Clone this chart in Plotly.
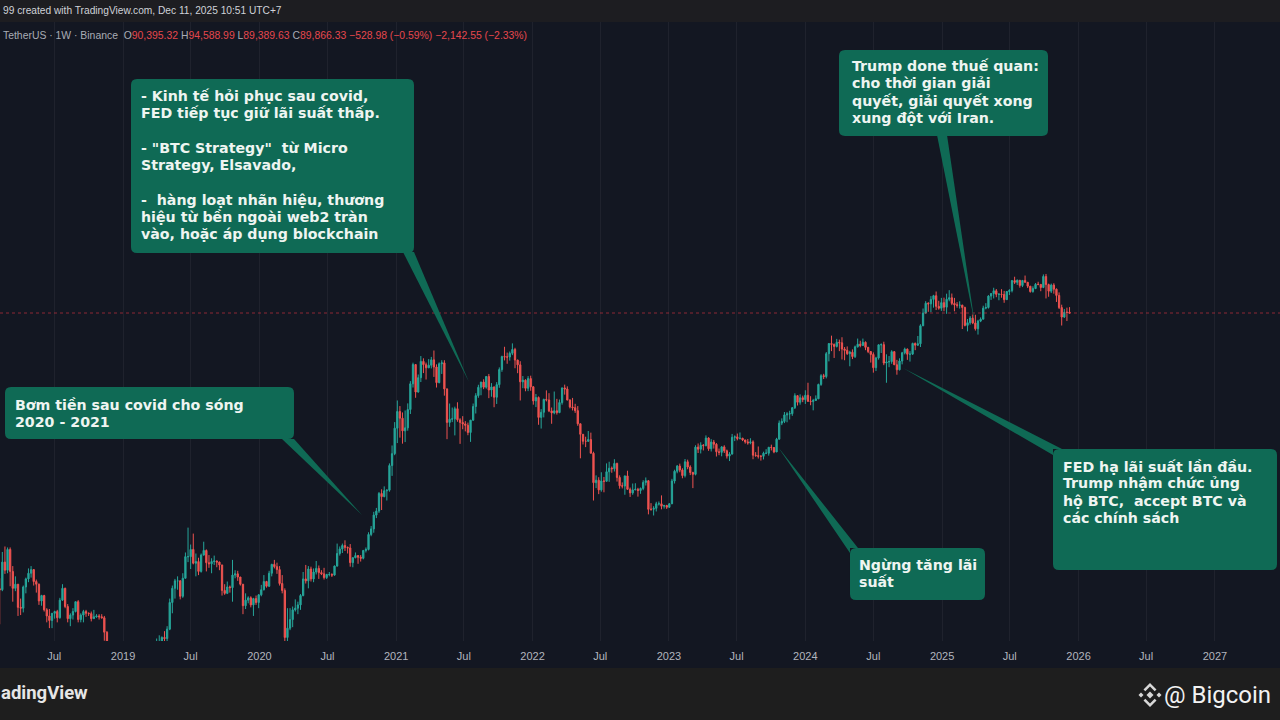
import plotly.graph_objects as go
import pandas as pd

# ---------------- DATA (BTC/USDT weekly candles, values in thousands USD) ----------------
first_week = "2018-02-05"
first_open_k = 8.17

close_2018_k = [8.10, 10.30, 9.60, 11.50, 9.50, 8.20, 8.50, 6.95, 6.90, 8.30, 8.90, 9.35, 9.65,
                8.70, 8.50, 7.35, 7.70, 6.80, 6.45, 6.20, 6.60, 6.70, 6.35, 7.40, 8.20, 7.00,
                6.30, 6.50, 6.70, 7.30, 6.25, 6.50, 6.70, 6.60, 6.58, 6.30, 6.40, 6.45, 6.40,
                6.35, 5.60, 4.00, 4.10, 3.55, 3.25, 3.95, 3.85, 4.05]
high_2018_k = [8.95, 11.25, 11.80, 11.70, 11.70, 9.95, 9.10, 8.50, 7.50, 8.40, 9.00, 9.75, 9.95,
               9.70, 8.85, 8.55, 7.75, 7.75, 6.90, 6.85, 6.60, 6.75, 6.80, 7.55, 8.50, 8.25,
               7.15, 6.60, 6.90, 7.30, 7.40, 6.60, 6.80, 6.80, 6.65, 6.70, 6.80, 6.55, 6.55,
               6.55, 6.45, 5.65, 4.45, 4.30, 3.65, 4.20, 4.30, 4.10]
low_2018_k = [6.00, 8.00, 9.30, 9.35, 8.35, 7.30, 8.00, 6.45, 6.50, 6.65, 7.85, 8.65, 9.00,
              8.40, 7.90, 7.10, 7.05, 6.70, 6.10, 5.80, 5.80, 6.30, 6.10, 6.30, 7.35, 6.90,
              6.10, 5.90, 6.25, 6.65, 6.10, 6.10, 6.10, 6.40, 6.45, 6.15, 6.30, 6.35, 6.25,
              6.30, 5.20, 3.50, 3.65, 3.30, 3.15, 3.25, 3.55, 3.65]

close_2019_k = [3.60, 3.55, 3.55, 3.45, 3.65, 3.70, 3.80, 3.85, 3.95, 4.00, 4.00, 4.10,
                5.10, 5.10, 5.35, 5.30, 5.75, 7.25, 8.20, 8.75, 8.75, 7.65, 8.95, 10.80, 10.80,
                11.50, 10.20, 10.35, 9.50, 10.95, 11.40, 10.25, 10.15, 10.35,
                10.40, 10.30, 10.05, 8.05, 7.85, 8.30, 8.25, 9.20, 9.30,
                9.05, 8.50, 7.05, 7.40, 7.55, 7.10, 7.50, 7.25, 7.75]
high_2019_k = [4.10, 3.75, 3.65, 3.55, 3.75, 3.72, 4.20, 3.95, 3.95, 4.00, 4.10, 4.15,
               5.30, 5.45, 5.40, 5.65, 5.90, 7.50, 8.40, 8.90, 9.10, 8.80, 9.35, 11.20, 13.90,
               12.00, 13.20, 11.10, 10.70, 11.10, 12.30, 11.50, 10.95, 10.65,
               10.90, 10.45, 10.35, 10.05, 8.50, 8.70, 8.40, 10.50, 9.60,
               9.55, 9.05, 8.50, 7.85, 7.65, 7.65, 7.55, 7.70, 7.80]
low_2019_k = [3.50, 3.50, 3.45, 3.35, 3.35, 3.55, 3.70, 3.70, 3.70, 3.80, 3.90, 3.95,
              4.10, 4.90, 4.95, 5.05, 5.15, 5.70, 6.60, 7.50, 8.10, 7.45, 7.55, 8.95, 10.30,
              9.70, 10.10, 9.10, 9.20, 9.40, 10.90, 9.50, 9.80, 9.35,
              10.05, 9.85, 9.60, 7.70, 7.75, 7.80, 7.90, 7.30, 8.95,
              8.75, 8.40, 6.55, 6.85, 7.20, 6.95, 6.45, 7.10, 6.90]

close_2020_k = [8.10, 8.70, 8.35, 9.35, 10.10, 9.90, 9.65, 8.55, 8.05, 5.35, 5.80, 6.25, 6.80,
                6.90, 7.10, 7.70, 8.90, 8.75, 9.70, 8.90, 9.45, 9.75, 9.40, 9.30, 9.00, 9.25,
                9.25, 9.20, 9.95, 11.10, 11.55, 11.90, 11.70, 11.65, 10.25,
                10.70, 10.90, 10.75, 10.65, 11.40, 11.50, 13.10, 13.75,
                15.50, 16.05, 18.70, 18.20, 19.15, 19.25, 23.85, 26.45, 33.00]
high_2020_k = [8.45, 9.20, 8.75, 9.55, 10.15, 10.50, 10.25, 9.95, 9.20, 8.20, 6.90, 6.90, 7.00,
               7.45, 7.30, 7.80, 9.45, 10.05, 9.95, 9.90, 9.75, 10.40, 10.00, 9.60, 9.80, 9.30,
               9.45, 9.35, 10.00, 12.10, 11.80, 12.10, 12.45, 11.80, 12.05,
               10.75, 11.20, 10.95, 10.95, 11.45, 11.70, 13.35, 14.10,
               15.95, 16.50, 18.95, 19.40, 19.90, 19.40, 24.30, 28.40, 34.80]
low_2020_k = [7.65, 8.05, 8.25, 8.30, 9.10, 9.75, 9.30, 8.40, 7.85, 3.80, 4.45, 5.70, 5.85,
              6.70, 6.55, 6.80, 7.65, 8.55, 8.20, 8.70, 8.65, 9.25, 8.90, 9.20, 8.85, 8.90,
              9.10, 9.05, 9.15, 9.90, 10.90, 11.15, 11.35, 11.10, 9.90,
              9.85, 10.65, 10.15, 10.35, 10.55, 11.20, 11.40, 12.90,
              13.30, 15.10, 15.80, 16.20, 18.10, 17.60, 19.00, 21.80, 26.10]

close_2021_k = [38.15, 36.00, 32.25, 33.10, 38.80, 48.55, 57.40, 45.20,
                51.20, 59.00, 57.35, 55.80, 57.05, 59.80, 56.20, 49.05, 57.80,
                58.25, 46.45, 34.70, 35.70, 35.80, 39.10, 35.50, 34.70, 34.25,
                33.85, 31.80, 35.40, 39.85, 43.80, 47.10, 49.30, 47.15, 51.75,
                46.00, 47.25, 43.20, 48.20, 54.95, 61.50, 61.30, 61.30,
                63.30, 65.45, 59.70, 57.25, 49.40, 50.10, 46.70, 50.80, 47.30]
high_2021_k = [42.00, 40.00, 37.85, 38.50, 40.95, 49.70, 58.35, 57.50,
               52.65, 61.80, 60.60, 58.40, 60.20, 61.35, 64.85, 57.50, 58.50,
               59.60, 59.60, 46.65, 40.90, 39.50, 39.80, 41.35, 36.00, 36.65,
               35.10, 34.65, 35.40, 40.90, 44.75, 48.15, 49.40, 50.50, 51.90,
               52.90, 48.85, 47.45, 49.25, 56.00, 62.00, 67.00, 63.70,
               64.30, 69.00, 66.40, 59.85, 59.10, 51.95, 50.50, 51.90, 52.10]
low_2021_k = [29.00, 30.40, 28.85, 29.25, 32.30, 37.35, 47.00, 43.00,
              44.95, 49.30, 53.30, 50.40, 55.65, 55.50, 51.55, 47.00, 48.75,
              52.90, 43.80, 30.00, 33.40, 34.80, 31.00, 34.90, 28.80, 32.70,
              32.10, 31.05, 29.30, 35.20, 37.50, 43.00, 43.95, 46.35, 46.55,
              42.85, 43.40, 39.60, 40.75, 46.90, 53.90, 59.50, 57.80,
              59.40, 62.30, 55.60, 53.25, 42.00, 46.75, 45.50, 45.55, 45.70]

close_2022_k = [41.85, 43.10, 36.25, 37.90, 42.40, 42.20, 38.35, 37.70, 38.40,
                37.80, 41.25, 46.85, 46.40, 42.15, 39.70, 39.45, 38.45,
                34.30, 31.30, 29.45, 29.45, 29.90, 26.55, 20.55, 21.00, 19.30,
                20.85, 20.80, 22.60, 23.30, 23.20, 24.30, 21.50, 20.00, 19.95,
                21.80, 19.40, 18.80, 19.30, 19.40, 19.20, 19.55, 20.60, 20.90,
                16.30, 16.30, 16.45, 17.10, 17.10, 16.75, 16.85, 16.60]
high_2022_k = [47.55, 44.45, 43.50, 38.95, 42.65, 45.85, 44.75, 39.50, 45.40,
               42.60, 42.35, 47.00, 48.20, 47.50, 42.45, 42.95, 40.80,
               40.00, 34.35, 31.35, 30.65, 32.20, 31.75, 26.90, 21.90, 21.55,
               22.50, 21.60, 24.30, 24.65, 23.65, 25.20, 24.45, 21.90, 20.60,
               21.85, 22.80, 19.70, 20.40, 20.45, 19.65, 19.70, 21.00, 21.50,
               21.00, 17.20, 16.75, 17.40, 17.45, 18.40, 16.95, 16.95]
low_2022_k = [40.50, 39.65, 34.00, 32.90, 36.25, 41.65, 37.95, 34.30, 37.25,
              37.15, 37.60, 40.50, 44.20, 42.10, 39.20, 38.50, 37.70,
              33.70, 25.40, 28.65, 28.00, 29.30, 26.50, 17.60, 19.60, 18.60,
              19.00, 18.90, 20.75, 20.70, 22.40, 22.65, 20.75, 19.50, 19.55,
              18.50, 19.30, 18.15, 18.50, 19.25, 18.20, 18.65, 19.25, 20.05,
              15.60, 16.10, 15.45, 16.00, 16.85, 16.30, 16.40, 16.35]

close_2023_k = [17.10, 20.85, 22.70, 23.75, 22.95, 21.85, 24.65, 23.55, 22.45,
                22.10, 28.00, 27.50, 28.45, 28.35, 30.30, 27.60, 29.25,
                28.70, 26.90, 26.75, 28.05, 27.10, 25.90, 26.35, 30.50, 30.60,
                30.15, 30.25, 29.80, 29.30, 29.05, 29.30, 26.10, 26.00, 25.85,
                25.85, 26.55, 26.55, 27.95, 27.90, 26.85, 30.00, 34.50, 35.00,
                37.05, 37.35, 37.45, 39.45, 43.80, 41.35, 43.00, 42.30]
high_2023_k = [17.20, 21.25, 23.00, 23.95, 24.25, 23.30, 25.25, 25.10, 23.90,
               22.60, 28.45, 28.90, 29.20, 28.75, 31.00, 30.50, 30.00,
               29.80, 29.00, 27.65, 28.25, 28.45, 27.40, 26.80, 31.40, 31.00,
               31.50, 31.80, 30.35, 29.85, 30.05, 30.25, 29.70, 26.80, 28.15,
               26.10, 26.90, 27.50, 28.05, 28.60, 28.00, 30.35, 35.30, 35.95,
               38.00, 37.95, 38.40, 39.65, 44.70, 43.40, 44.30, 43.80]
low_2023_k = [16.50, 17.10, 20.40, 22.30, 22.50, 21.35, 21.50, 23.10, 21.95,
              19.60, 21.90, 26.60, 26.50, 27.20, 28.20, 27.10, 26.95,
              27.65, 25.80, 26.10, 25.85, 26.60, 25.35, 24.80, 26.25, 29.50,
              29.70, 29.95, 29.50, 28.85, 28.60, 28.70, 25.20, 25.75, 25.35,
              24.90, 25.15, 26.35, 26.00, 27.20, 26.55, 26.80, 29.90, 33.90,
              34.50, 34.75, 35.60, 36.75, 39.00, 40.20, 40.50, 41.40]

close_2024_k = [43.95, 41.70, 41.60, 42.00, 42.60, 48.30, 52.10, 51.70, 63.10,
                68.90, 68.40, 67.20, 69.65, 69.35, 65.65, 64.95, 63.10, 63.90,
                61.50, 66.95, 68.50, 67.75, 69.65, 66.65, 64.25, 62.70,
                55.85, 60.80, 68.15, 68.25, 58.15, 58.70, 58.95, 64.20, 57.30,
                54.85, 59.20, 63.55, 65.65, 62.80, 62.85, 69.00, 67.95, 68.75,
                80.40, 89.85, 97.85, 97.30, 101.15, 104.45, 95.20, 93.70, 98.35]
high_2024_k = [45.90, 49.00, 43.60, 42.60, 43.90, 48.60, 52.80, 52.95, 64.00,
               69.20, 73.80, 68.90, 71.75, 71.30, 72.80, 66.85, 67.20, 64.70,
               65.50, 67.70, 71.95, 70.60, 71.95, 70.20, 66.95, 64.50,
               63.80, 61.40, 68.40, 69.00, 70.00, 62.75, 61.80, 65.00, 64.50,
               59.80, 60.60, 64.10, 66.50, 66.00, 64.50, 69.40, 69.50, 73.60,
               81.50, 93.45, 99.60, 98.70, 104.10, 105.25, 108.35, 99.95, 102.50]
low_2024_k = [40.75, 41.50, 40.30, 38.55, 41.85, 42.55, 47.70, 50.60, 50.90,
              59.00, 64.50, 60.80, 66.60, 64.50, 60.00, 59.60, 62.40, 56.55,
              60.20, 60.75, 66.60, 66.70, 67.60, 65.05, 63.40, 58.40,
              53.50, 54.25, 59.90, 63.45, 57.10, 49.00, 56.10, 57.80, 57.20,
              52.55, 54.55, 57.50, 62.70, 59.80, 58.90, 62.40, 65.05, 67.45,
              66.85, 80.20, 89.40, 90.80, 90.50, 94.15, 92.20, 92.50, 91.55]

close_2025_k = [94.55, 101.30, 102.60, 97.70, 96.45, 96.15, 96.25, 94.25,
                80.70, 82.60, 86.05, 82.40, 78.35, 83.75, 85.15, 93.75, 94.30,
                104.10, 106.45, 109.00, 105.70, 105.75, 105.55, 100.95, 108.35, 109.20,
                119.10, 117.30, 119.45, 114.20, 119.30, 117.40, 113.50, 108.25,
                111.15, 115.30, 115.25, 112.20, 123.50, 115.10, 108.65, 114.55, 110.55,
                104.70, 94.20, 86.80, 90.40, 90.395, 89.866]
high_2025_k = [102.70, 106.30, 109.60, 106.45, 102.50, 98.80, 99.50, 96.50,
               95.00, 85.30, 87.50, 88.75, 88.50, 84.70, 86.50, 95.75, 97.90,
               104.95, 106.70, 111.95, 110.70, 106.80, 110.55, 108.90, 108.50, 110.55,
               119.50, 123.20, 120.25, 119.80, 119.35, 124.45, 117.60, 113.60,
               113.40, 116.65, 117.90, 115.45, 125.70, 126.20, 116.00, 116.00, 116.40,
               111.20, 107.50, 96.60, 93.10, 94.15, 94.589]
low_2025_k = [91.20, 89.25, 99.50, 96.20, 91.20, 94.10, 93.40, 78.20,
              80.00, 76.60, 81.20, 81.55, 77.15, 74.50, 83.00, 85.15, 92.80,
              93.40, 100.70, 102.00, 103.10, 100.40, 102.65, 98.20, 100.95, 105.10,
              107.50, 115.70, 114.70, 112.00, 112.60, 116.80, 111.65, 107.30,
              107.25, 110.60, 114.40, 108.60, 111.55, 102.00, 103.50, 106.90, 106.30,
              98.95, 93.00, 80.60, 86.10, 83.80, 89.39]

tick_dates = ["2018-07-01", "2019-01-01", "2019-07-01", "2020-01-01", "2020-07-01",
              "2021-01-01", "2021-07-01", "2022-01-01", "2022-07-01", "2023-01-01",
              "2023-07-01", "2024-01-01", "2024-07-01", "2025-01-01", "2025-07-01",
              "2026-01-01", "2026-07-01", "2027-01-01"]
tick_labels = ["Jul", "2019", "Jul", "2020", "Jul", "2021", "Jul", "2022", "Jul", "2023",
               "Jul", "2024", "Jul", "2025", "Jul", "2026", "Jul", "2027"]

header_top = "99 created with TradingView.com, Dec 11, 2025 10:51 UTC+7"

# ---------------- BUILD ----------------
closes_k = (close_2018_k + close_2019_k + close_2020_k + close_2021_k + close_2022_k
            + close_2023_k + close_2024_k + close_2025_k)
highs_k = (high_2018_k + high_2019_k + high_2020_k + high_2021_k + high_2022_k
           + high_2023_k + high_2024_k + high_2025_k)
lows_k = (low_2018_k + low_2019_k + low_2020_k + low_2021_k + low_2022_k
          + low_2023_k + low_2024_k + low_2025_k)
assert len(closes_k) == len(highs_k) == len(lows_k), (len(closes_k), len(highs_k), len(lows_k))
opens_k = [first_open_k] + closes_k[:-1]
dates = pd.date_range(first_week, periods=len(closes_k), freq="7D")
K = 1000.0
o = [v * K for v in opens_k]
h = [v * K for v in highs_k]
l = [v * K for v in lows_k]
c = [v * K for v in closes_k]

W, H = 1280, 720
PLOT_TOP, PLOT_BOTTOM = 22, 641
PLOT_H = PLOT_BOTTOM - PLOT_TOP

BG = "#131722"
UP = "#26a69a"
DN = "#ef5350"
BOX = "#0f6a55"
BOX_TXT = "#eef5f1"

X_RANGE = ["2018-02-05 19:00", "2027-06-24 05:00"]
Y_RANGE = [3.7149, 6.0526]


def P(x, y):
    return f"{x / W:.6f},{(PLOT_BOTTOM - y) / PLOT_H:.6f}"


def pyp(y):
    return (PLOT_BOTTOM - y) / PLOT_H


def rounded_rect(x0, y0, x1, y1, r):
    return (f"M{P(x0 + r, y0)} L{P(x1 - r, y0)} Q{P(x1, y0)} {P(x1, y0 + r)} "
            f"L{P(x1, y1 - r)} Q{P(x1, y1)} {P(x1 - r, y1)} L{P(x0 + r, y1)} "
            f"Q{P(x0, y1)} {P(x0, y1 - r)} L{P(x0, y0 + r)} Q{P(x0, y0)} {P(x0 + r, y0)} Z")


def poly(pts):
    return "M" + " L".join(P(x, y) for x, y in pts) + " Z"


fig = go.Figure()

# last price line
fig.add_trace(go.Scatter(
    x=[X_RANGE[0], X_RANGE[1]], y=[c[-1], c[-1]], mode="lines",
    line=dict(color="rgba(242,54,69,0.55)", width=1, dash="dot"),
    hoverinfo="skip", showlegend=False))

fig.add_trace(go.Candlestick(
    x=dates, open=o, high=h, low=l, close=c,
    increasing=dict(line=dict(color=UP, width=1), fillcolor=UP),
    decreasing=dict(line=dict(color=DN, width=1), fillcolor=DN),
    whiskerwidth=0, hoverinfo="skip", showlegend=False))

shapes = []
# top bar and bottom bar
shapes.append(dict(type="rect", xref="paper", yref="paper", x0=0, x1=1,
                   y0=pyp(PLOT_TOP), y1=pyp(0), fillcolor="#1d1d21",
                   line=dict(width=0), layer="below"))
shapes.append(dict(type="rect", xref="paper", yref="paper", x0=0, x1=1,
                   y0=pyp(720), y1=pyp(668), fillcolor="#1e1e1e",
                   line=dict(width=0), layer="below"))

# callout boxes (pixel geometry): rect + tail polygon
callouts = [
    dict(rect=(5, 387, 294, 439), tail=[(282, 439), (294, 439), (362, 515)]),
    dict(rect=(131, 79, 414, 253), tail=[(403, 252), (414, 252), (469, 382)]),
    dict(rect=(839, 50, 1048, 136), tail=[(937, 135), (947, 135), (975, 325)]),
    dict(rect=(1053, 449, 1277, 570), tail=[(1062, 449), (1053, 449), (1053, 455), (903, 368)]),
    dict(rect=(850, 548, 985, 600), tail=[(858, 548), (850, 548), (850, 553), (778, 447)]),
]
for cb in callouts:
    x0, y0, x1, y1 = cb["rect"]
    shapes.append(dict(type="path", xref="paper", yref="paper",
                       path=rounded_rect(x0, y0, x1, y1, 6),
                       fillcolor=BOX, line=dict(width=0), layer="above"))
    shapes.append(dict(type="path", xref="paper", yref="paper",
                       path=poly(cb["tail"]), fillcolor=BOX,
                       line=dict(width=0), layer="above"))

# Binance-like logo
LOGO = "#d8d8d8"
cx, cy = 1150, 695
logo_polys = [
    [(cx, cy - 3.5), (cx + 3.5, cy), (cx, cy + 3.5), (cx - 3.5, cy)],
    [(cx - 9, cy - 2.5), (cx - 6.5, cy), (cx - 9, cy + 2.5), (cx - 11.5, cy)],
    [(cx + 9, cy - 2.5), (cx + 11.5, cy), (cx + 9, cy + 2.5), (cx + 6.5, cy)],
    [(cx, cy - 12), (cx + 6.5, cy - 5.5), (cx + 4.7, cy - 3.7), (cx, cy - 8.4),
     (cx - 4.7, cy - 3.7), (cx - 6.5, cy - 5.5)],
    [(cx, cy + 12), (cx + 6.5, cy + 5.5), (cx + 4.7, cy + 3.7), (cx, cy + 8.4),
     (cx - 4.7, cy + 3.7), (cx - 6.5, cy + 5.5)],
]
for pts in logo_polys:
    shapes.append(dict(type="path", xref="paper", yref="paper", path=poly(pts),
                       fillcolor=LOGO, line=dict(width=0), layer="above"))

annotations = []


def text_at(x, y_center, text, size, color, family="Open Sans", weight="normal",
            xanchor="left"):
    annotations.append(dict(
        x=x / W, y=pyp(y_center), xref="paper", yref="paper", text=text,
        showarrow=False, xanchor=xanchor, yanchor="middle", align="left",
        font=dict(family=family, size=size, color=color, weight=weight),
        borderpad=0))


NB = "\u00a0"
callout_texts = [
    (14, 410, 17.3, ["Bơm tiền sau covid cho sóng", "2020 - 2021"]),
    (140, 101, 17.25, ["- Kinh tế hỏi phục sau covid,",
                       "FED tiếp tục giữ lãi suất thấp.",
                       "",
                       "- \"BTC Strategy\"" + NB + " từ Micro",
                       "Strategy, Elsavado,",
                       "",
                       "-" + NB + " hàng loạt nhãn hiệu, thương",
                       "hiệu từ bền ngoài web2 tràn",
                       "vào, hoặc áp dụng blockchain"]),
    (851, 71, 17.3, ["Trump done thuế quan:", "cho thời gian giải",
                     "quyết, giải quyết xong", "xung đột với Iran."]),
    (1062, 471.5, 17.0, ["FED hạ lãi suất lần đầu.", "Trump nhậm chức ủng",
                         "hộ BTC," + NB + " accept BTC và", "các chính sách"]),
    (858, 570, 17.0, ["Ngừng tăng lãi", "suất"]),
]
for tx, b0, gap, lines in callout_texts:
    for i, line in enumerate(lines):
        if line:
            text_at(tx, b0 + i * gap - 5, line, 14.2, BOX_TXT,
                    family="DejaVu Sans", weight="bold")

# header texts
text_at(2, 11, header_top, 10.2, "#cfd2d8", family="Liberation Sans")
RED = "#e5474d"
GREY = "#a9acb5"
hdr2 = (f"<span style='color:{GREY}'>TetherUS · 1W · Binance</span>{NB}{NB}"
        f"<span style='color:{GREY}'>O</span><span style='color:{RED}'>90,395.32</span> "
        f"<span style='color:{GREY}'>H</span><span style='color:{RED}'>94,588.99</span> "
        f"<span style='color:{GREY}'>L</span><span style='color:{RED}'>89,389.63</span> "
        f"<span style='color:{GREY}'>C</span><span style='color:{RED}'>89,866.33</span> "
        f"<span style='color:{RED}'>−528.98 (−0.59%)</span> "
        f"<span style='color:{RED}'>−2,142.55 (−2.33%)</span>")
text_at(2, 35, hdr2, 10.4, GREY, family="Liberation Sans")

# footer texts
text_at(0, 693, "adingView", 18.5, "#e6e6e6", family="Roboto", weight="bold")
text_at(1272, 695, "@ Bigcoin", 24, "#f2f2f2", family="Roboto", xanchor="right")

fig.update_layout(
    width=W, height=H,
    margin=dict(l=0, r=0, t=PLOT_TOP, b=H - PLOT_BOTTOM),
    paper_bgcolor=BG, plot_bgcolor=BG,
    showlegend=False,
    shapes=shapes, annotations=annotations,
    xaxis=dict(type="date", range=X_RANGE, rangeslider=dict(visible=False),
               tickvals=tick_dates, ticktext=tick_labels, ticks="",
               tickfont=dict(family="Liberation Sans", size=11, color="#b2b5be"),
               ticklabelstandoff=7,
               showgrid=True, gridcolor="rgba(255,255,255,0.05)", gridwidth=1,
               zeroline=False, showline=False, fixedrange=True),
    yaxis=dict(type="log", range=Y_RANGE, showticklabels=False, showgrid=False,
               zeroline=False, showline=False, fixedrange=True),
    hovermode=False,
)

fig.write_html("out.html", config={"displayModeBar": False, "staticPlot": True},
               post_script="document.body.style.margin='0';")
